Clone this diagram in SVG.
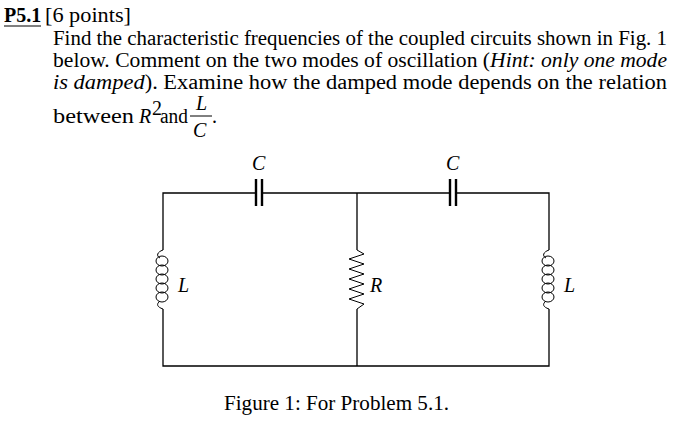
<svg xmlns="http://www.w3.org/2000/svg" width="686" height="433" viewBox="0 0 686 433">
<style>
text{font-family:"Liberation Serif",serif;font-size:20px;fill:#000}
.i{font-style:italic}
.w{stroke:#000;stroke-width:1.3;fill:none}
.c{stroke:#000;stroke-width:1;fill:none}
.p{stroke:#000;stroke-width:2.4}
</style>
<rect width="686" height="433" fill="#fff"/>
<text x="4" y="22" font-weight="bold">P5.1</text>
<line x1="4" y1="26" x2="41" y2="26" stroke="#000" stroke-width="1"/>
<text x="45" y="22" textLength="86" lengthAdjust="spacingAndGlyphs">[6 points]</text>
<text x="53" y="45" textLength="614" lengthAdjust="spacingAndGlyphs">Find the characteristic frequencies of the coupled circuits shown in Fig. 1</text>
<text x="53" y="67" textLength="614" lengthAdjust="spacingAndGlyphs">below. Comment on the two modes of oscillation (<tspan class="i">Hint: only one mode</tspan></text>
<text x="53" y="89" textLength="614" lengthAdjust="spacingAndGlyphs"><tspan class="i">is damped</tspan>). Examine how the damped mode depends on the relation</text>
<text x="53" y="123" textLength="81" lengthAdjust="spacingAndGlyphs">between</text>
<text x="139" y="123" class="i">R</text>
<text x="152" y="115" font-size="13">2</text>
<text x="160" y="123" textLength="28" lengthAdjust="spacingAndGlyphs">and</text>
<text x="196" y="110" class="i">L</text>
<line x1="190" y1="116" x2="212" y2="116" stroke="#000" stroke-width="1"/>
<text x="193" y="137" class="i">C</text>
<text x="212" y="123">.</text>
<g id="wires" class="w">
<path d="M163 250V193H256M262 193H450M456 193H549V250M549 309V366H163V309M357 193V250M357 309V366"/>
</g>
<g id="C1"><line class="p" x1="256" y1="179" x2="256" y2="206"/><line class="p" x1="262" y1="179" x2="262" y2="206"/><text class="i" x="252" y="170">C</text></g>
<g id="C2"><line class="p" x1="450" y1="179" x2="450" y2="206"/><line class="p" x1="456" y1="179" x2="456" y2="206"/><text class="i" x="446" y="170">C</text></g>
<g id="L1">
<path class="c" d="M163 250C157 252 156 256 160 258M163 309C157 307 156 304 160 301"/>
<ellipse class="c" cx="162" cy="261" rx="6" ry="5"/><ellipse class="c" cx="162" cy="270" rx="6" ry="5"/><ellipse class="c" cx="162" cy="279" rx="6" ry="5"/><ellipse class="c" cx="162" cy="288" rx="6" ry="5"/><ellipse class="c" cx="162" cy="297" rx="6" ry="5"/>
<text class="i" x="178" y="292">L</text></g>
<g id="R">
<path class="c" d="M357 250L364 254L349 259L364 264L349 269L364 274L349 279L364 284L349 289L364 294L349 299L364 304L357 309"/>
<text class="i" x="370" y="292">R</text></g>
<g id="L2">
<path class="c" d="M549 250C543 252 542 256 546 258M549 309C543 307 542 304 546 301"/>
<ellipse class="c" cx="548" cy="261" rx="6" ry="5"/><ellipse class="c" cx="548" cy="270" rx="6" ry="5"/><ellipse class="c" cx="548" cy="279" rx="6" ry="5"/><ellipse class="c" cx="548" cy="288" rx="6" ry="5"/><ellipse class="c" cx="548" cy="297" rx="6" ry="5"/>
<text class="i" x="564" y="292">L</text></g>
<text x="224" y="410" textLength="225" lengthAdjust="spacingAndGlyphs">Figure 1: For Problem 5.1.</text>
</svg>
